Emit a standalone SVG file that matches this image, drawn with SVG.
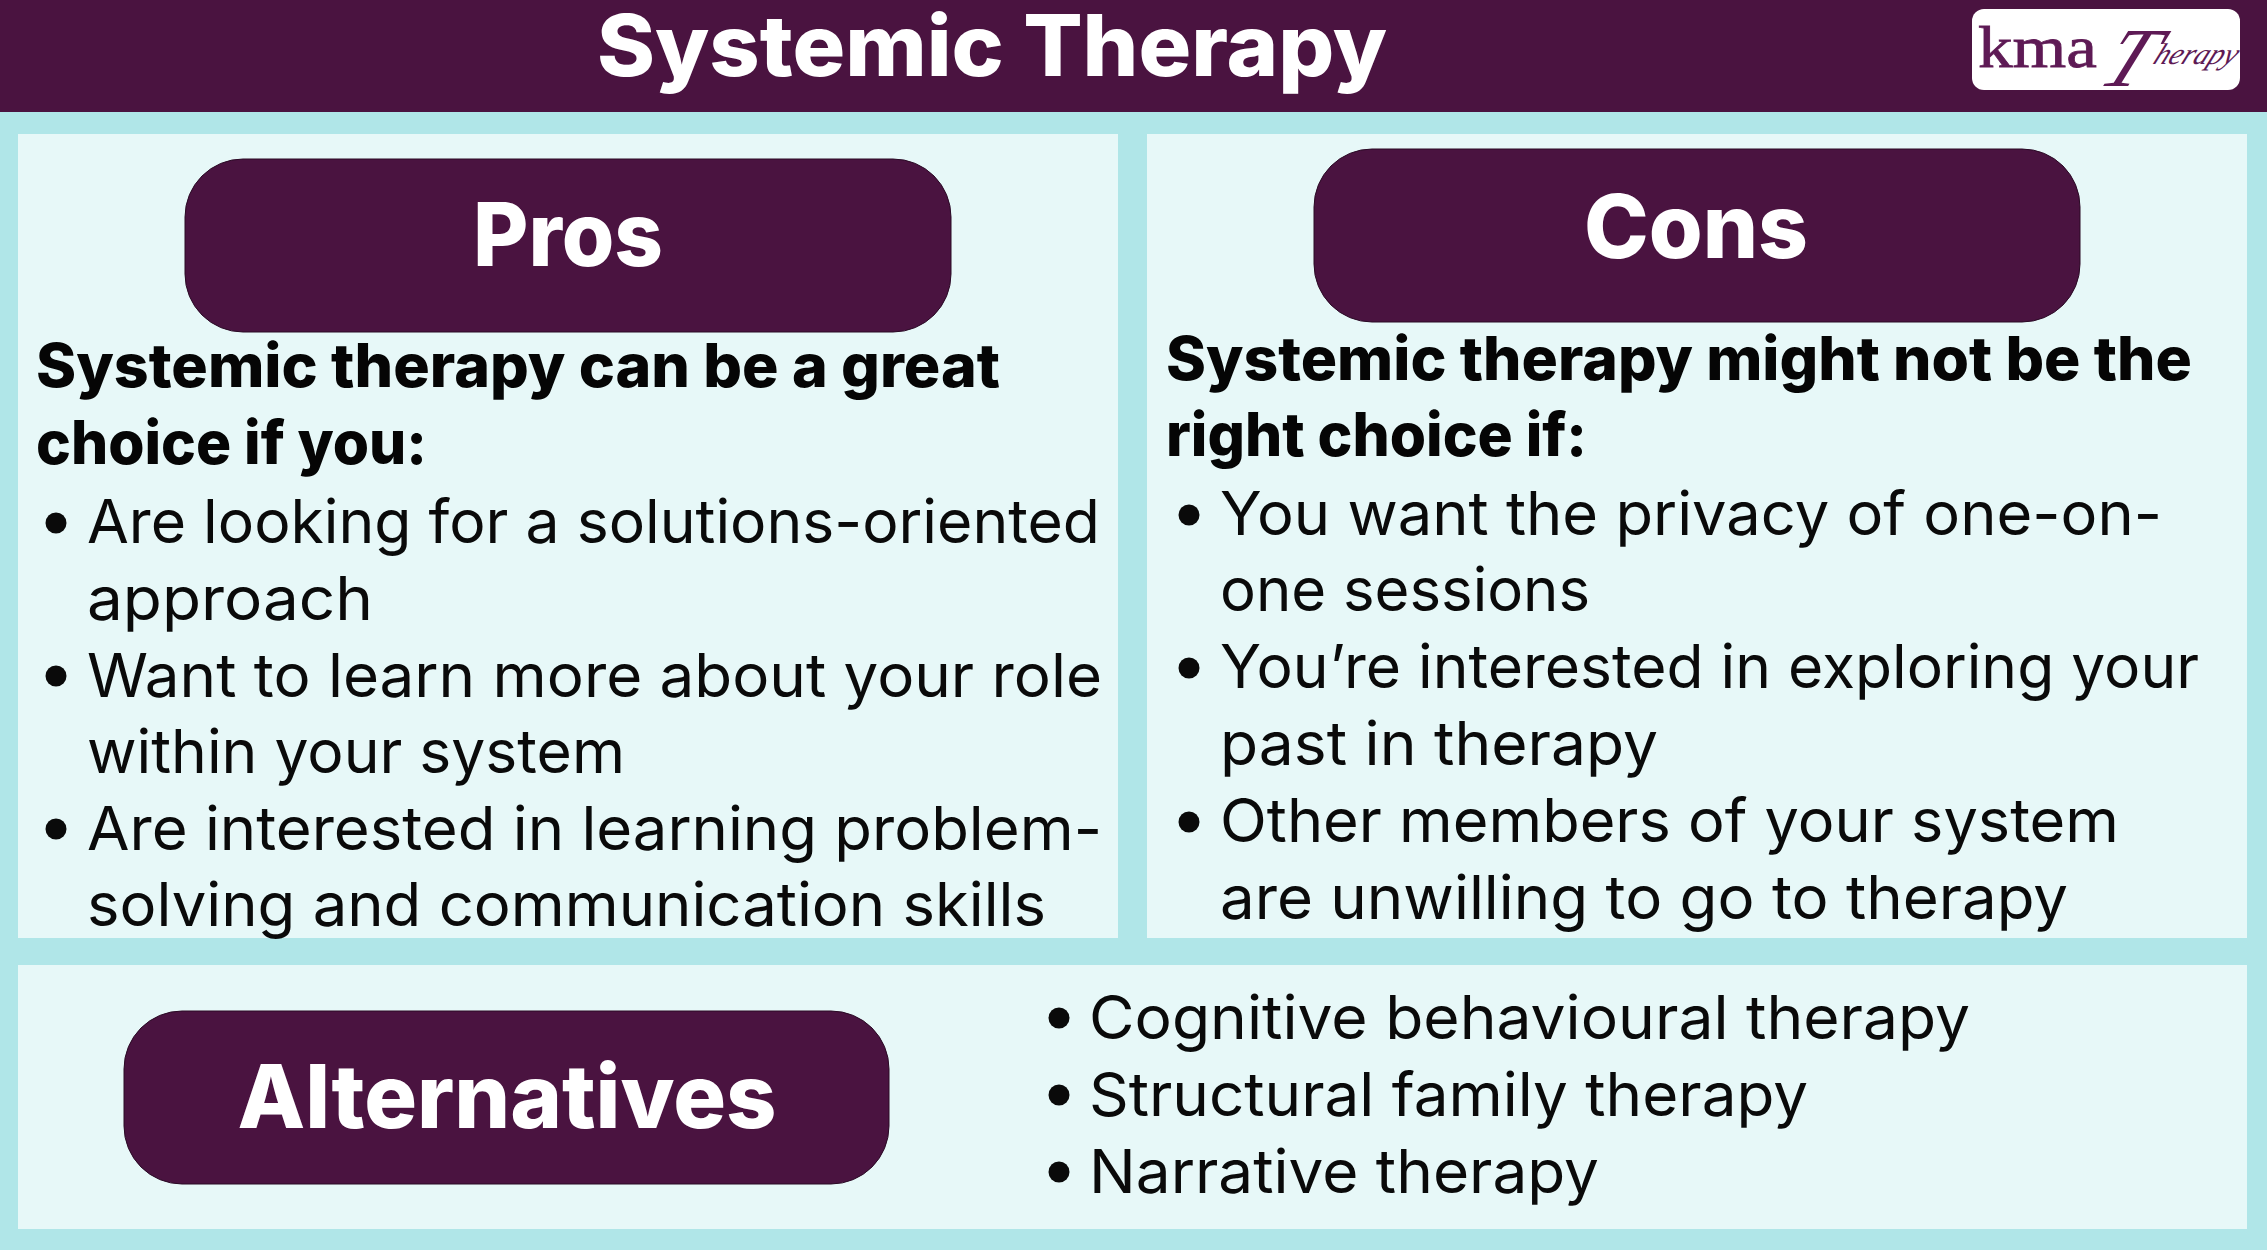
<svg xmlns="http://www.w3.org/2000/svg" width="2267" height="1250" viewBox="0 0 2267 1250">
<style>
text{font-family:"Inter","Noto Sans","Liberation Sans",sans-serif;}
.b{font-size:61px;font-weight:400;fill:#0a0a0a;}
.h{font-size:60px;font-weight:800;fill:#050505;}
.p{font-size:88px;font-weight:800;fill:#fff;text-anchor:middle;}
.panel{fill:#e7f8f8;}
.pill{fill:#4a1340;stroke:#2a0a25;stroke-width:1;}
.d{fill:#0a0a0a;}
.logo{font-family:"Liberation Serif",serif;fill:#5e1a55;}
</style>
<rect width="2267" height="1250" fill="#b0e6e8"/>
<g id="header">
<rect width="2267" height="112" fill="#4a1340"/>
<text x="597" y="76" font-size="85" font-weight="800" fill="#fff" textLength="790" lengthAdjust="spacingAndGlyphs">Systemic Therapy</text>
</g>
<g id="logo">
<rect x="1972" y="9" width="268" height="81" rx="12" fill="#fff"/>
<text class="logo" x="1978" y="67" font-size="60" textLength="119" lengthAdjust="spacingAndGlyphs" stroke="#5e1a55" stroke-width="0.8">kma</text>
<text class="logo" transform="translate(2096,86) skewX(-24)" font-size="30" font-style="italic" textLength="128" lengthAdjust="spacingAndGlyphs"><tspan font-size="84">T</tspan><tspan dy="-22">herapy</tspan></text>
</g>
<g id="pros">
<rect class="panel" x="18" y="134" width="1100" height="804"/>
<rect class="pill" x="185" y="159" width="766" height="173" rx="58"/>
<text class="p" x="568" y="266" textLength="190" lengthAdjust="spacingAndGlyphs">Pros</text>
<text class="h" x="36" y="387" textLength="964" lengthAdjust="spacingAndGlyphs">Systemic therapy can be a great</text>
<text class="h" x="36" y="464" textLength="391" lengthAdjust="spacingAndGlyphs">choice if you:</text>
<circle class="d" cx="56" cy="523" r="10.5"/><circle class="d" cx="56" cy="676" r="10.5"/><circle class="d" cx="56" cy="829" r="10.5"/>
<text class="b" x="87" y="543" textLength="1013" lengthAdjust="spacingAndGlyphs">Are looking for a solutions-oriented</text>
<text class="b" x="87" y="620" textLength="286" lengthAdjust="spacingAndGlyphs">approach</text>
<text class="b" x="87" y="697" textLength="1015" lengthAdjust="spacingAndGlyphs">Want to learn more about your role</text>
<text class="b" x="87" y="773" textLength="538" lengthAdjust="spacingAndGlyphs">within your system</text>
<text class="b" x="87" y="850" textLength="1015" lengthAdjust="spacingAndGlyphs">Are interested in learning problem-</text>
<text class="b" x="87" y="926" textLength="959" lengthAdjust="spacingAndGlyphs">solving and communication skills</text>
</g>
<g id="cons">
<rect class="panel" x="1147" y="134" width="1100" height="804"/>
<rect class="pill" x="1314" y="149" width="766" height="173" rx="58"/>
<text class="p" x="1696" y="258" textLength="224" lengthAdjust="spacingAndGlyphs">Cons</text>
<text class="h" x="1166" y="380" textLength="1026" lengthAdjust="spacingAndGlyphs">Systemic therapy might not be the</text>
<text class="h" x="1166" y="456" textLength="421" lengthAdjust="spacingAndGlyphs">right choice if:</text>
<circle class="d" cx="1189" cy="515" r="10.5"/><circle class="d" cx="1189" cy="668" r="10.5"/><circle class="d" cx="1189" cy="822" r="10.5"/>
<text class="b" x="1220" y="535" textLength="942" lengthAdjust="spacingAndGlyphs">You want the privacy of one-on-</text>
<text class="b" x="1220" y="611" textLength="370" lengthAdjust="spacingAndGlyphs">one sessions</text>
<text class="b" x="1220" y="688" textLength="979" lengthAdjust="spacingAndGlyphs">You’re interested in exploring your</text>
<text class="b" x="1220" y="765" textLength="438" lengthAdjust="spacingAndGlyphs">past in therapy</text>
<text class="b" x="1220" y="842" textLength="899" lengthAdjust="spacingAndGlyphs">Other members of your system</text>
<text class="b" x="1220" y="919" textLength="848" lengthAdjust="spacingAndGlyphs">are unwilling to go to therapy</text>
</g>
<g id="alternatives">
<rect class="panel" x="18" y="965" width="2229" height="264"/>
<rect class="pill" x="124" y="1011" width="765" height="173" rx="58"/>
<text class="p" x="507" y="1128" textLength="539" lengthAdjust="spacingAndGlyphs">Alternatives</text>
<circle class="d" cx="1059" cy="1018" r="10.5"/><circle class="d" cx="1059" cy="1095" r="10.5"/><circle class="d" cx="1059" cy="1172" r="10.5"/>
<text class="b" x="1089" y="1039" textLength="881" lengthAdjust="spacingAndGlyphs">Cognitive behavioural therapy</text>
<text class="b" x="1089" y="1116" textLength="719" lengthAdjust="spacingAndGlyphs">Structural family therapy</text>
<text class="b" x="1089" y="1193" textLength="510" lengthAdjust="spacingAndGlyphs">Narrative therapy</text>
</g>
</svg>
